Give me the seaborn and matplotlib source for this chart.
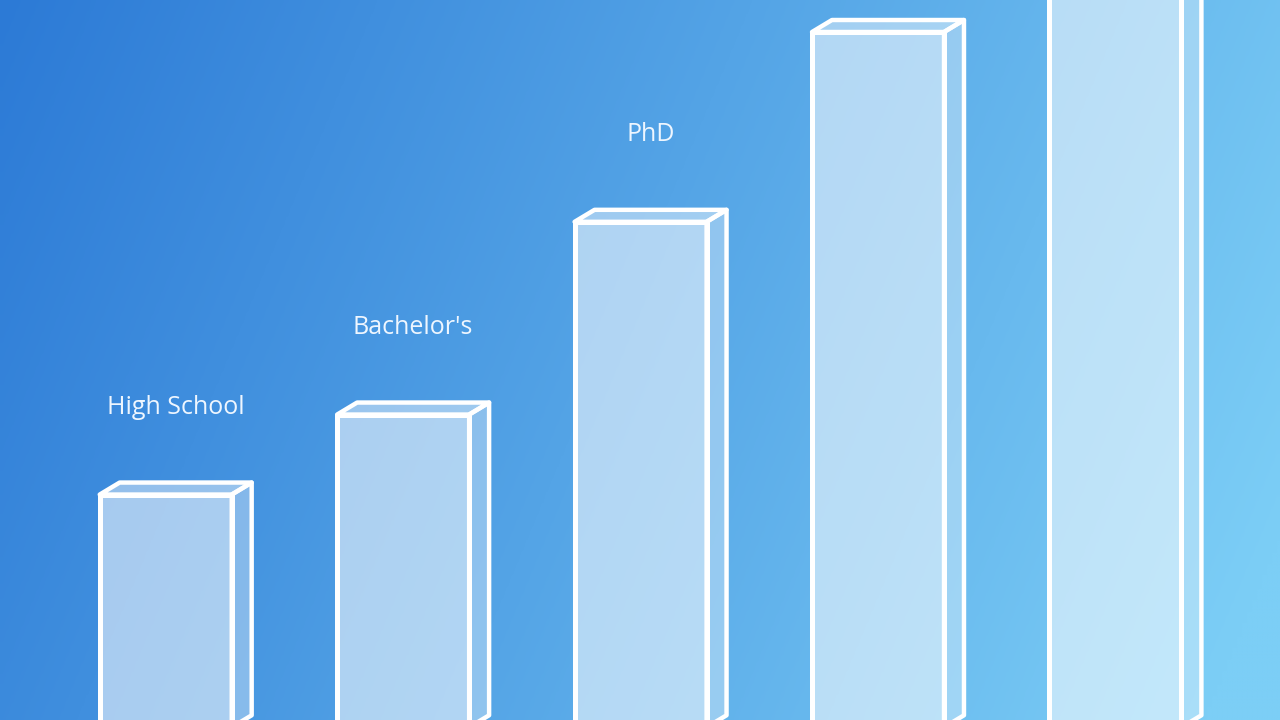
import numpy as np
import pandas as pd
import matplotlib.pyplot as plt
import seaborn as sns
from matplotlib.patches import Polygon

# data
categories = ["High School", "Bachelor's", "PhD", "Level 4", "Level 5"]
values = [32, 43, 69.5, 95.6, 115]
shown_labels = ["High School", "Bachelor's", "PhD", "", ""]

df = pd.DataFrame({"level": categories, "value": values})

sns.set_theme(style="white")
plt.rcParams['font.family'] = ['Open Sans', 'DejaVu Sans']

fig = plt.figure(figsize=(12.8, 7.2), dpi=100)
ax = fig.add_axes([0, 0, 1, 1])

# blue gradient background, darker at the top left
gx, gy = np.meshgrid(np.linspace(0, 1, 256), np.linspace(0, 1, 256))
c_start = np.array([44, 122, 214]) / 255
c_end = np.array([124, 206, 246]) / 255
t = np.clip(0.85 * gx + 0.2 * gy, 0, 1)[..., None]
grad = c_start * (1 - t) + c_end * t
ax.imshow(grad, extent=[0, 1, 0, 1], transform=ax.transAxes,
          aspect='auto', zorder=0)

sns.barplot(data=df, x="level", y="value", ax=ax, width=0.556,
            color="white", saturation=1, linewidth=3.6, zorder=3)

dx, dy = 0.084, 1.65   # fake 3D depth
for p, lab in zip(ax.patches, shown_labels):
    p.set_facecolor((1, 1, 1, 0.55))
    p.set_edgecolor('white')
    p.set_joinstyle('round')
    x0, w, h = p.get_x(), p.get_width(), p.get_height()
    side = Polygon([(x0 + w, 0), (x0 + w + dx, dy), (x0 + w + dx, h + dy), (x0 + w, h)],
                   closed=True, facecolor=(1, 1, 1, 0.35), edgecolor='white',
                   linewidth=3.2, joinstyle='round', zorder=2)
    top = Polygon([(x0, h), (x0 + dx, h + dy), (x0 + w + dx, h + dy), (x0 + w, h)],
                  closed=True, facecolor=(1, 1, 1, 0.45), edgecolor='white',
                  linewidth=3.2, joinstyle='round', zorder=2)
    ax.add_patch(side)
    ax.add_patch(top)
    if lab:
        ax.text(x0 + w / 2 + dx / 2, h + 12, lab, ha='center', va='center',
                fontsize=18, color='#eef6ff', zorder=4)

ax.set_xlim(-0.698, 4.693)
ax.set_ylim(1, 100)
ax.set_axis_off()

fig.savefig("out.png", dpi=100)
